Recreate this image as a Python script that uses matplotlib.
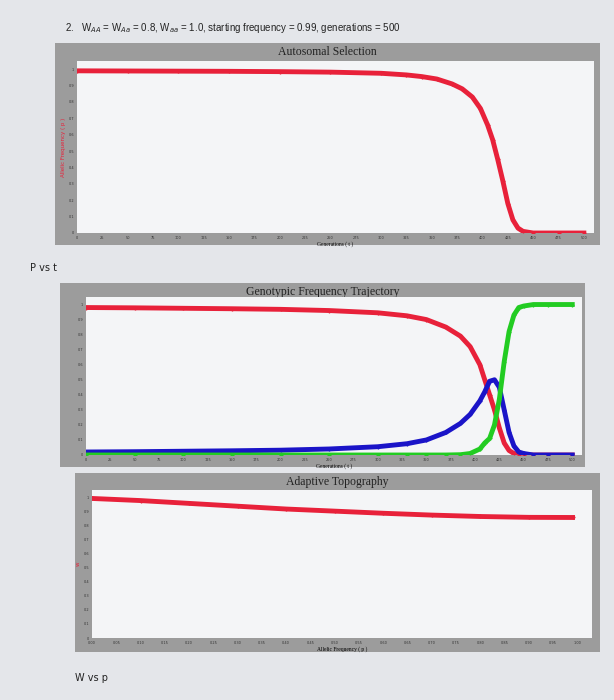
import matplotlib
matplotlib.use("Agg")
import matplotlib.pyplot as plt

W, H = 614, 700
BG = "#e4e6ea"
FRAME = "#9c9c9c"
RED = "#e8213a"
BLUE = "#1a14c8"
GREEN = "#22cc22"

# allele frequency p over generations
gen = [0, 50, 100, 150, 200, 250, 300, 325, 340, 355, 370, 380, 390, 398,
       405, 410, 415, 420, 425, 430, 435, 440, 450, 475, 500]
p_t = [0.99, 0.989, 0.988, 0.987, 0.985, 0.982, 0.975, 0.965, 0.955, 0.94,
       0.91, 0.88, 0.83, 0.76, 0.66, 0.57, 0.45, 0.32, 0.18, 0.08, 0.03, 0.01,
       0.0, 0.0, 0.0]

# genotype frequencies (AA red, Aa blue, aa green)
g_gen = [0, 50, 100, 150, 200, 250, 300, 330, 350, 370, 385, 395, 405, 410,
         415, 420, 425, 430, 435, 440, 445, 450, 460, 475, 500]
f_AA = [0.98, 0.978, 0.975, 0.972, 0.968, 0.96, 0.945, 0.925, 0.9, 0.85,
        0.79, 0.72, 0.6, 0.5, 0.4, 0.3, 0.18, 0.08, 0.03, 0.01, 0.0, 0.0,
        0.0, 0.0, 0.0]
f_Aa = [0.02, 0.022, 0.025, 0.028, 0.032, 0.04, 0.055, 0.075, 0.1, 0.15,
        0.21, 0.27, 0.36, 0.42, 0.49, 0.5, 0.45, 0.3, 0.15, 0.06, 0.02, 0.01,
        0.0, 0.0, 0.0]
f_aa = [0.0, 0.0, 0.0, 0.0, 0.0, 0.0, 0.0, 0.0, 0.0, 0.0, 0.002, 0.01, 0.04,
        0.08, 0.11, 0.2, 0.37, 0.62, 0.82, 0.93, 0.98, 0.99, 1.0, 1.0, 1.0]

# mean fitness vs allele frequency
p_w = [0.0, 0.1, 0.2, 0.3, 0.4, 0.5, 0.6, 0.7, 0.8, 0.9, 0.99]
w_bar = [0.99, 0.975, 0.955, 0.935, 0.915, 0.9, 0.885, 0.872, 0.862, 0.856, 0.855]

fig = plt.figure(figsize=(W / 100, H / 100), dpi=100, facecolor=BG)


def box(x0, y0, x1, y1):
    return [x0 / W, 1 - y1 / H, (x1 - x0) / W, (y1 - y0) / H]


def panel(frame, inner, title, xlabel, ylabel):
    fr = fig.add_axes(box(*frame), zorder=0)
    fr.set_facecolor(FRAME)
    fr.set_xticks([])
    fr.set_yticks([])
    for s in fr.spines.values():
        s.set_visible(False)
    fr.text(0.5, 1 - 9 / (frame[3] - frame[1]), title, transform=fr.transAxes,
            ha="center", va="center", fontsize=8.5, family="Liberation Serif",
            color="#222222")
    ax = fig.add_axes(box(*inner), zorder=1)
    ax.set_facecolor("#f4f5f7")
    ax.set_ylim(0, 1.05)
    ax.set_yticks([i / 10 for i in range(11)])
    ax.set_yticklabels(["0"] + [f"{i/10:.1f}" for i in range(1, 10)] + ["1"])
    ax.tick_params(labelsize=2.5, colors="#333333", length=0, pad=2)
    ax.set_xlabel(xlabel, fontsize=4, family="Liberation Serif", labelpad=1)
    ax.set_ylabel(ylabel, fontsize=4, color=RED, labelpad=2)
    for s in ax.spines.values():
        s.set_visible(False)
    return ax


ax1 = panel((55, 43, 600, 245), (77, 61, 594, 233), "Autosomal Selection",
            "Generations ( t )", "Allelic Frequency ( p )")
ax1.plot(gen, p_t, color=RED, lw=3.5, marker="+", ms=3, mew=1)
ax1.set_xlim(0, 510)
ax1.set_xticks(range(0, 525, 25))

ax2 = panel((60, 283, 585, 467), (86, 297, 582, 455), "Genotypic Frequency Trajectory",
            "Generations ( t )", "")
ax2.plot(g_gen, f_AA, color=RED, lw=3.5, marker="+", ms=3, mew=1)
ax2.plot(g_gen, f_Aa, color=BLUE, lw=3.5, marker="+", ms=3, mew=1)
ax2.plot(g_gen, f_aa, color=GREEN, lw=3.5, marker="+", ms=3, mew=1)
ax2.set_xlim(0, 510)
ax2.set_xticks(range(0, 525, 25))

ax3 = panel((75, 473, 600, 652), (92, 490, 592, 638), "Adaptive Topography",
            "Allelic Frequency ( p )", "w")
ax3.plot(p_w, w_bar, color=RED, lw=3.5, marker="+", ms=3, mew=1)
ax3.set_xlim(0, 1.03)
ax3.set_xticks([i / 20 for i in range(21)])
ax3.set_xticklabels([f"{i/20:.2f}" for i in range(21)])

fig.text(65 / W, 1 - 28 / H,
         "2.   W$_{AA}$ = W$_{Aa}$ = 0.8, W$_{aa}$ = 1.0, starting frequency = 0.99, generations = 500",
         fontsize=7, family="Liberation Sans", va="center", color="#222222")
fig.text(30 / W, 1 - 268 / H, "P vs t", fontsize=7, va="center", color="#222222")
fig.text(75 / W, 1 - 678 / H, "W vs p", fontsize=7, va="center", color="#222222")

fig.savefig("out.png", dpi=100, facecolor=BG)
